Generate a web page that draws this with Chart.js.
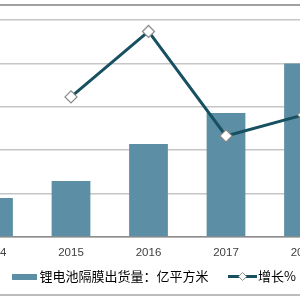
<!DOCTYPE html>
<html>
<head>
<meta charset="utf-8">
<script src="https://cdn.jsdelivr.net/npm/chart.js"></script>
<style>
  html, body { margin: 0; padding: 0; background: #fff; overflow: hidden; }
  #wrap { position: relative; width: 300px; height: 300px; overflow: hidden; }
  #box { position: absolute; left: -60px; top: 0; width: 420px; height: 300px; }
  .rule { position: absolute; left: 0; width: 300px; }
</style>
</head>
<body>
<div id="wrap">
  <div id="box"><canvas id="chart" width="420" height="300"></canvas></div>
  <div class="rule" style="top:4px;height:2px;background:#a0a0a0"></div>
  <div class="rule" style="top:294px;height:1.5px;background:#bcbcbc"></div>
</div>
<script>
  // values
  const years = ["2014", "2015", "2016", "2017", "2018"];
  const shipments = [4.5, 6.45, 10.7, 14.3, 20.0]; // 亿平方米
  const growth = [null, 45.2, 66.3, 32.6, 39.4]; // %
  const seriesNames = ["锂电池隔膜出货量：亿平方米", "增长%"];

  const barColor = "#5c8ea5";
  const lineColor = "#17505f";
  const markerEdge = "#8a8a8a";

  function swatch(w, h, draw) {
    const c = document.createElement("canvas");
    c.width = w;
    c.height = h;
    draw(c.getContext("2d"));
    return c;
  }

  const barSwatch = swatch(25, 6, (g) => {
    g.fillStyle = barColor;
    g.fillRect(0, 0, 25, 6);
  });

  const lineSwatch = swatch(29, 11, (g) => {
    g.strokeStyle = lineColor;
    g.lineWidth = 3;
    g.beginPath();
    g.moveTo(0, 5.5);
    g.lineTo(29, 5.5);
    g.stroke();
    g.fillStyle = "#fff";
    g.strokeStyle = markerEdge;
    g.lineWidth = 1;
    g.beginPath();
    g.moveTo(14.5, 1.5);
    g.lineTo(18.5, 5.5);
    g.lineTo(14.5, 9.5);
    g.lineTo(10.5, 5.5);
    g.closePath();
    g.fill();
    g.stroke();
  });

  // legend keeps wide gaps between items but takes little height,
  // and sits a bit higher / more to the right than chart.js puts it
  const legendPlace = {
    id: "legendPlace",
    beforeUpdate(chart) {
      const lg = chart.legend;
      if (!lg || lg._patched) return;
      const fit = lg.fit.bind(lg);
      lg.fit = function () {
        fit();
        this.height = 26.2;
      };
      lg._patched = true;
    },
    afterLayout(chart) {
      const lg = chart.legend;
      lg.top = 245;
      lg.bottom = 300; // legend draw is clipped to its box
      lg.left += 7;
      lg.right += 7;
    },
  };

  new Chart(document.getElementById("chart"), {
    data: {
      labels: years,
      datasets: [
        {
          type: "bar",
          label: seriesNames[0],
          data: shipments,
          backgroundColor: barColor,
          categoryPercentage: 1,
          barPercentage: 0.5,
          yAxisID: "y",
          order: 2,
        },
        {
          type: "line",
          label: seriesNames[1],
          data: growth,
          borderColor: lineColor,
          borderWidth: 3,
          tension: 0,
          pointStyle: "rectRot",
          pointRadius: 6,
          pointBackgroundColor: "#fff",
          pointBorderColor: markerEdge,
          pointBorderWidth: 1.2,
          yAxisID: "y1",
          order: 1,
        },
      ],
    },
    options: {
      responsive: false,
      animation: false,
      layout: { padding: { left: 14.75, right: 17.75, top: 20, bottom: 5 } },
      scales: {
        x: {
          grid: { display: false, drawTicks: false },
          border: { color: "#8c8c8c", width: 1.5 },
          ticks: {
            color: "#404040",
            font: { family: "Liberation Sans", size: 11.5 },
            padding: 9,
          },
        },
        y: {
          min: 0,
          max: 25,
          ticks: { display: false, stepSize: 5 },
          grid: { color: "#c6c6c6", lineWidth: 1.5, drawTicks: false },
          border: { display: false },
        },
        y1: {
          position: "right",
          display: false,
          min: 0,
          max: 70,
        },
      },
      plugins: {
        tooltip: { enabled: false },
        legend: {
          position: "bottom",
          labels: {
            color: "#404040",
            font: { family: "Noto Sans CJK SC", size: 13 },
            usePointStyle: true,
            pointStyleWidth: 18,
            padding: 25,
            generateLabels: () => [
              { text: seriesNames[0], pointStyle: barSwatch, fillStyle: barColor, strokeStyle: barColor, lineWidth: 0, datasetIndex: 0, hidden: false },
              { text: seriesNames[1], pointStyle: lineSwatch, fillStyle: lineColor, strokeStyle: lineColor, lineWidth: 0, datasetIndex: 1, hidden: false },
            ],
          },
        },
      },
    },
    plugins: [legendPlace],
  });
</script>
</body>
</html>
